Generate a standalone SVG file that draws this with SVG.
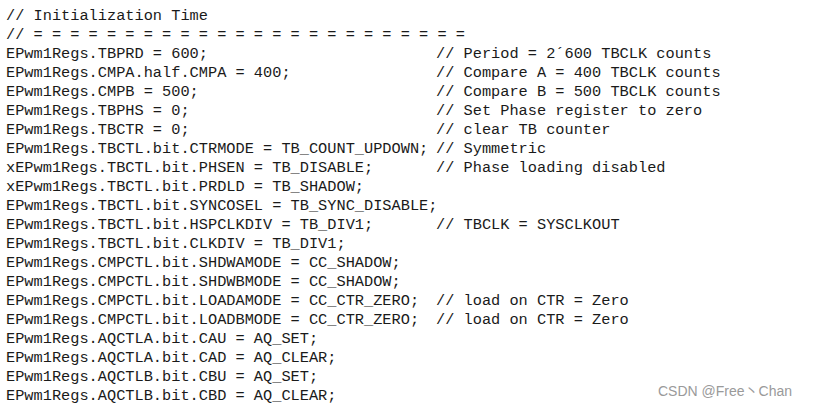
<svg xmlns="http://www.w3.org/2000/svg" width="820" height="407" viewBox="0 0 820 407">
<style>
text{font-family:"Liberation Mono","Courier New",monospace;font-size:15.3px;fill:#1a1a1a;white-space:pre}
.wm{font-family:"Liberation Sans","Noto Sans CJK SC",sans-serif;font-size:14px;fill:#9a9a9a}
</style>
<rect width="820" height="407" fill="#fff"/>
<g id="code" xml:space="preserve">
<text x="6" y="20">// Initialization Time</text>
<text x="6" y="39">// = = = = = = = = = = = = = = = = = = = = = = = =</text>
<text x="6" y="58">EPwm1Regs.TBPRD = 600;</text>
<text x="6" y="77">EPwm1Regs.CMPA.half.CMPA = 400;</text>
<text x="6" y="96">EPwm1Regs.CMPB = 500;</text>
<text x="6" y="115">EPwm1Regs.TBPHS = 0;</text>
<text x="6" y="134">EPwm1Regs.TBCTR = 0;</text>
<text x="6" y="153">EPwm1Regs.TBCTL.bit.CTRMODE = TB_COUNT_UPDOWN;</text>
<text x="6" y="172">xEPwm1Regs.TBCTL.bit.PHSEN = TB_DISABLE;</text>
<text x="6" y="191">xEPwm1Regs.TBCTL.bit.PRDLD = TB_SHADOW;</text>
<text x="6" y="210">EPwm1Regs.TBCTL.bit.SYNCOSEL = TB_SYNC_DISABLE;</text>
<text x="6" y="229">EPwm1Regs.TBCTL.bit.HSPCLKDIV = TB_DIV1;</text>
<text x="6" y="248">EPwm1Regs.TBCTL.bit.CLKDIV = TB_DIV1;</text>
<text x="6" y="267">EPwm1Regs.CMPCTL.bit.SHDWAMODE = CC_SHADOW;</text>
<text x="6" y="286">EPwm1Regs.CMPCTL.bit.SHDWBMODE = CC_SHADOW;</text>
<text x="6" y="305">EPwm1Regs.CMPCTL.bit.LOADAMODE = CC_CTR_ZERO;</text>
<text x="6" y="324">EPwm1Regs.CMPCTL.bit.LOADBMODE = CC_CTR_ZERO;</text>
<text x="6" y="343">EPwm1Regs.AQCTLA.bit.CAU = AQ_SET;</text>
<text x="6" y="362">EPwm1Regs.AQCTLA.bit.CAD = AQ_CLEAR;</text>
<text x="6" y="381">EPwm1Regs.AQCTLB.bit.CBU = AQ_SET;</text>
<text x="6" y="400">EPwm1Regs.AQCTLB.bit.CBD = AQ_CLEAR;</text>
<text x="436" y="58">// Period = 2´600 TBCLK counts</text>
<text x="436" y="77">// Compare A = 400 TBCLK counts</text>
<text x="436" y="96">// Compare B = 500 TBCLK counts</text>
<text x="436" y="115">// Set Phase register to zero</text>
<text x="436" y="134">// clear TB counter</text>
<text x="436" y="153">// Symmetric</text>
<text x="436" y="172">// Phase loading disabled</text>
<text x="436" y="229">// TBCLK = SYSCLKOUT</text>
<text x="436" y="305">// load on CTR = Zero</text>
<text x="436" y="324">// load on CTR = Zero</text>
</g>
<text class="wm" x="658" y="396">CSDN @Free丶Chan</text>
</svg>
